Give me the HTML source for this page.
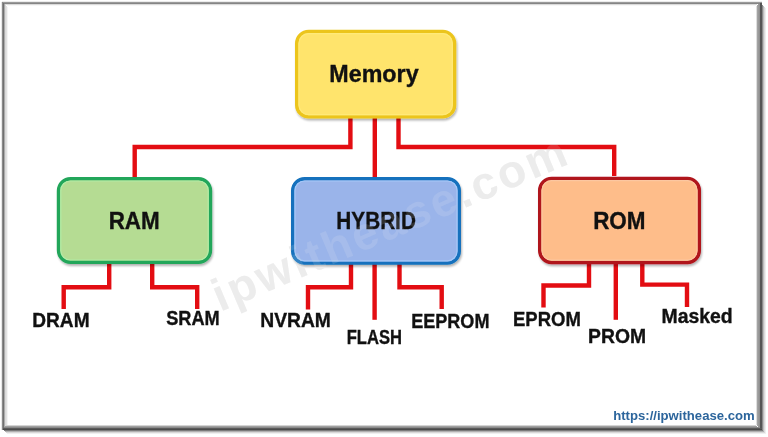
<!DOCTYPE html>
<html><head><meta charset="utf-8">
<style>
html,body{margin:0;padding:0;background:#fff;width:768px;height:437px;overflow:hidden}
svg{position:absolute;left:0;top:0;display:block;filter:blur(0.4px)}
text{font-family:"Liberation Sans",sans-serif;font-weight:bold}
</style></head><body>
<svg width="768" height="437" viewBox="0 0 768 437">
<defs>
<filter id="sh" x="-10%" y="-10%" width="130%" height="140%">
<feGaussianBlur in="SourceAlpha" stdDeviation="1.1"/>
<feOffset dx="1" dy="1.6" result="b"/>
<feComponentTransfer><feFuncA type="linear" slope="0.3"/></feComponentTransfer>
<feMerge><feMergeNode/><feMergeNode in="SourceGraphic"/></feMerge>
</filter>
</defs>
<rect width="768" height="437" fill="#fff"/>
<!-- frame -->
<g shape-rendering="crispEdges">
<rect x="762" y="5" width="1" height="427" fill="#8a8a8a"/>
<rect x="763" y="6" width="1" height="427" fill="#bdbdbd"/>
<rect x="764" y="7" width="1" height="427" fill="#dcdcdc"/>
<rect x="765" y="8" width="1" height="426" fill="#efefef"/>
<rect x="4" y="430" width="759" height="1" fill="#7a7a7a"/>
<rect x="5" y="431" width="759" height="1" fill="#b0b0b0"/>
<rect x="6" y="432" width="759" height="1" fill="#d8d8d8"/>
<rect x="7" y="433" width="759" height="1" fill="#f0f0f0"/>
<rect x="1" y="2" width="1" height="428" fill="#e8e8e8"/>
<rect x="2" y="1" width="760" height="1" fill="#ececec"/>
<rect x="7" y="7" width="1" height="419" fill="#f4f4f4"/>
<rect x="6" y="6" width="1" height="420" fill="#e2e2e2"/>
<rect x="5" y="5" width="1" height="421" fill="#dadada"/>
<rect x="4" y="4" width="1" height="424" fill="#ababab"/>
<rect x="7" y="5" width="749" height="1" fill="#f7f7f7"/>
<rect x="5" y="4" width="752" height="1" fill="#dadada"/>
<rect x="2" y="2" width="760" height="1" fill="#9a9a9a"/>
<rect x="2" y="3" width="760" height="1" fill="#858585"/>
<rect x="2" y="2" width="1" height="428" fill="#8a8a8a"/>
<rect x="3" y="3" width="1" height="427" fill="#707070"/>
<rect x="756" y="6" width="1" height="419" fill="#dedede"/>
<rect x="757" y="5" width="1" height="421" fill="#a3a3a3"/>
<rect x="758" y="4" width="1" height="423" fill="#999999"/>
<rect x="759" y="4" width="1" height="424" fill="#8f8f8f"/>
<rect x="6" y="425" width="750" height="1" fill="#d4d4d4"/>
<rect x="5" y="426" width="752" height="1" fill="#a0a0a0"/>
<rect x="4" y="427" width="755" height="1" fill="#8a8a8a"/>
<rect x="760" y="3" width="2" height="427" fill="#555555"/>
<rect x="3" y="428" width="759" height="1" fill="#5a5a5a"/><rect x="3" y="429" width="759" height="1" fill="#4a4a4a"/>
</g>

<!-- connector lines -->
<g fill="none" stroke="#e30d12" stroke-width="4.4" stroke-linejoin="miter" stroke-linecap="butt">
<polyline points="350.4,118 350.4,147 134.7,147 134.7,177"/>
<polyline points="374.8,118 374.8,177"/>
<polyline points="398.5,118 398.5,147 614.2,147 614.2,176"/>
<polyline points="109.2,264 109.2,287.2 63.7,287.2 63.7,309"/>
<polyline points="152.2,264 152.2,287.3 197.2,287.3 197.2,309"/>
<polyline points="351,264 351,287.2 308,287.2 308,309.5"/>
<polyline points="374.6,264 374.6,319.8"/>
<polyline points="399.5,264 399.5,287.2 441.7,287.2 441.7,309"/>
<polyline points="589,263 589,285.5 543.5,285.5 543.5,307.5"/>
<polyline points="615.8,263 615.8,319.8"/>
<polyline points="642.3,263 642.3,284.6 687,284.6 687,307"/>
</g>

<!-- boxes -->
<g filter="url(#sh)">
<rect x="296.70" y="31.40" width="157.90" height="85.50" rx="12" fill="#ffe46c" stroke="#ecc51c" stroke-width="3.4"/>
<rect x="58.50" y="178.70" width="152.00" height="83.60" rx="12" fill="#b5dc93" stroke="#22a65a" stroke-width="3.4"/>
<rect x="292.70" y="178.70" width="166.60" height="84.40" rx="12" fill="#9ab4ea" stroke="#1271bd" stroke-width="3.4"/>
<rect x="539.70" y="178.40" width="159.60" height="84.10" rx="12" fill="#febd8a" stroke="#b0121a" stroke-width="3.4"/>
</g>
<rect x="299.00" y="33.70" width="153.30" height="80.90" rx="9.5" fill="none" stroke="#ffea7a" stroke-width="1.2"/>
<rect x="60.80" y="181.00" width="147.40" height="79.00" rx="9.5" fill="none" stroke="#b2eca6" stroke-width="1.2"/>
<rect x="295.00" y="181.00" width="162.00" height="79.80" rx="9.5" fill="none" stroke="#a6c8f8" stroke-width="1.2"/>
<rect x="542.00" y="180.70" width="155.00" height="79.50" rx="9.5" fill="none" stroke="#fcc7a0" stroke-width="1.2"/>

<!-- labels -->
<g fill="#111" stroke="#111" stroke-width="0.35">
<text x="329.30" y="81.50" font-size="23.4" textLength="89.30" lengthAdjust="spacingAndGlyphs">Memory</text>
<text x="108.64" y="228.60" font-size="23.4" textLength="51.09" lengthAdjust="spacingAndGlyphs">RAM</text>
<text x="336.31" y="229.40" font-size="23.4" textLength="79.58" lengthAdjust="spacingAndGlyphs">HYBRID</text>
<text x="593.14" y="228.60" font-size="23.4" textLength="52.37" lengthAdjust="spacingAndGlyphs">ROM</text>
<text x="32.31" y="326.90" font-size="19.3" textLength="57.28" lengthAdjust="spacingAndGlyphs">DRAM</text>
<text x="166.20" y="325.40" font-size="19.3" textLength="53.54" lengthAdjust="spacingAndGlyphs">SRAM</text>
<text x="260.30" y="327.00" font-size="19.3" textLength="70.60" lengthAdjust="spacingAndGlyphs">NVRAM</text>
<text x="346.74" y="344.00" font-size="19.3" textLength="55.25" lengthAdjust="spacingAndGlyphs">FLASH</text>
<text x="411.26" y="328.10" font-size="19.3" textLength="78.18" lengthAdjust="spacingAndGlyphs">EEPROM</text>
<text x="513.04" y="326.00" font-size="19.3" textLength="67.85" lengthAdjust="spacingAndGlyphs">EPROM</text>
<text x="588.10" y="343.00" font-size="19.3" textLength="57.95" lengthAdjust="spacingAndGlyphs">PROM</text>
<text x="661.49" y="323.00" font-size="19.3" textLength="71.25" lengthAdjust="spacingAndGlyphs">Masked</text>
</g>
<g fill="#2c659c">
<text x="613.23" y="419.50" font-size="13.5" textLength="141.49" lengthAdjust="spacingAndGlyphs">https://ipwithease.com</text>
</g>
<!-- watermark -->
<g transform="translate(220.3,312) rotate(-23)">
<text x="0" y="0" font-size="46" textLength="380" lengthAdjust="spacing" fill="rgb(236,236,236)" style="mix-blend-mode:darken">ipwithease.com</text>
<text x="0" y="0" font-size="46" textLength="380" lengthAdjust="spacing" fill="rgb(240,240,240)" fill-opacity="0.14">ipwithease.com</text>
</g>
</svg>
</body></html>
